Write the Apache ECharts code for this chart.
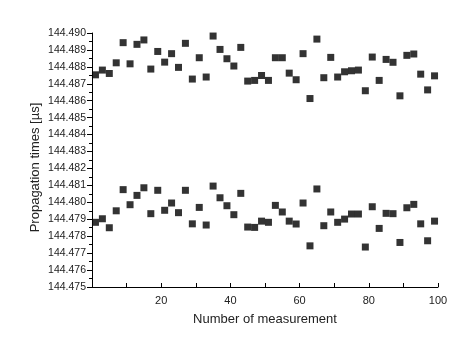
<!DOCTYPE html>
<html>
<head>
<meta charset="utf-8">
<script src="https://cdn.jsdelivr.net/npm/echarts@6/dist/echarts.min.js"></script>
<style>
  html, body { margin: 0; padding: 0; background: #fff; }
  #chart { width: 474px; height: 353px; }
</style>
</head>
<body>
<div id="chart"></div>
<script>
// measurement numbers 1, 3, 5 ... 99
const measurements = [1, 3, 5, 7, 9, 11, 13, 15, 17, 19, 21, 23, 25, 27, 29, 31, 33, 35, 37, 39,
  41, 43, 45, 47, 49, 51, 53, 55, 57, 59, 61, 63, 65, 67, 69, 71, 73, 75, 77, 79,
  81, 83, 85, 87, 89, 91, 93, 95, 97, 99]

const upperTimes = [144.48753, 144.48781, 144.48761, 144.48824, 144.48943, 144.48818, 144.48933, 144.48959, 144.48787, 144.48891,
  144.48828, 144.48878, 144.48797, 144.48939, 144.48728, 144.48854, 144.48740, 144.48982, 144.48903, 144.48848,
  144.48805, 144.48915, 144.48716, 144.48720, 144.48749, 144.48720, 144.48854, 144.48854, 144.48763, 144.48724,
  144.48878, 144.48613, 144.48964, 144.48736, 144.48856, 144.48740, 144.48771, 144.48777, 144.48781, 144.48659,
  144.48858, 144.48720, 144.48844, 144.48827, 144.48629, 144.48868, 144.48876, 144.48757, 144.48664, 144.48747]

const lowerTimes = [144.47882, 144.47903, 144.47850, 144.47950, 144.48075, 144.47986, 144.48041, 144.48086, 144.47933, 144.48071,
  144.47953, 144.47996, 144.47939, 144.48071, 144.47873, 144.47970, 144.47866, 144.48096, 144.48027, 144.47980,
  144.47927, 144.48053, 144.47854, 144.47852, 144.47889, 144.47882, 144.47982, 144.47943, 144.47889, 144.47872,
  144.47996, 144.47743, 144.48079, 144.47862, 144.47943, 144.47882, 144.47901, 144.47931, 144.47931, 144.47736,
  144.47974, 144.47846, 144.47935, 144.47933, 144.47763, 144.47968, 144.47988, 144.47873, 144.47773, 144.47889]

const yTicks = ['144.475', '144.476', '144.477', '144.478', '144.479', '144.480', '144.481', '144.482',
  '144.483', '144.484', '144.485', '144.486', '144.487', '144.488', '144.489', '144.490']

const textColor = '#222'
const fontFamily = 'Liberation Sans, Arial, sans-serif'

const chart = echarts.init(document.getElementById('chart'))

const toPoints = (ys) => measurements.map((x, i) => [x, ys[i]])

chart.setOption({
  animation: false,
  grid: {
    left: 92,
    right: 36,
    top: 33,
    bottom: 66
  },
  xAxis: {
    type: 'value',
    min: 0,
    max: 100,
    interval: 10,
    name: 'Number of measurement',
    nameLocation: 'middle',
    nameGap: 26,
    nameMoveOverlap: false,
    nameTextStyle: { color: textColor, fontSize: 13, fontFamily },
    axisLine: { lineStyle: { color: '#000', width: 1 } },
    axisTick: { show: true, inside: true, length: 4, lineStyle: { color: '#000' } },
    axisLabel: {
      color: textColor,
      fontSize: 11,
      fontFamily,
      margin: 8,
      formatter: (v) => (v !== 0 && v % 20 === 0 ? String(v) : '')
    },
    splitLine: { show: false }
  },
  yAxis: {
    type: 'value',
    min: 144.475,
    max: 144.490,
    interval: 0.001,
    name: 'Propagation times [\u00b5s]',
    nameLocation: 'middle',
    nameGap: 50,
    nameMoveOverlap: false,
    nameTextStyle: { color: textColor, fontSize: 13, fontFamily, padding: [0, 15, 0, 0] },
    axisLine: { show: true, lineStyle: { color: '#000', width: 1 } },
    axisTick: { show: true, inside: false, length: 5, lineStyle: { color: '#000' } },
    minorTick: { show: true, splitNumber: 2, length: 3, lineStyle: { color: '#000' } },
    axisLabel: {
      color: textColor,
      fontSize: 10.5,
      fontFamily,
      margin: 6,
      formatter: (v) => {
        const idx = Math.round((v - 144.475) / 0.001)
        return yTicks[idx] || ''
      }
    },
    splitLine: { show: false }
  },
  series: [
    {
      name: 'upper',
      type: 'scatter',
      symbol: 'rect',
      symbolSize: 7,
      itemStyle: { color: '#000' },
      data: toPoints(upperTimes)
    },
    {
      name: 'lower',
      type: 'scatter',
      symbol: 'rect',
      symbolSize: 7,
      itemStyle: { color: '#000' },
      data: toPoints(lowerTimes)
    }
  ]
})
</script>
</body>
</html>
